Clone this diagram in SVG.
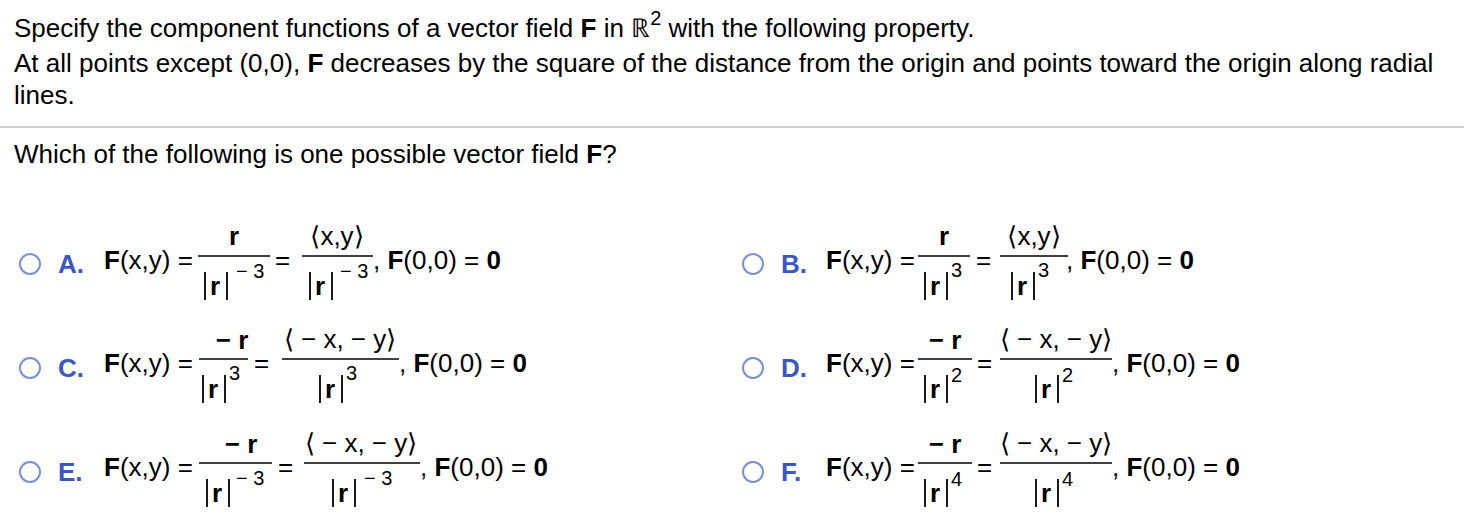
<svg xmlns="http://www.w3.org/2000/svg" width="1464" height="516" viewBox="0 0 1464 516">
<style>
text{font-family:"Liberation Sans",Arial,sans-serif;font-size:26px;fill:#000}
.b{font-weight:bold}
.lt{font-weight:bold;fill:#3a57c4}
.c{text-anchor:middle}
.sup{font-size:20px}
.rad{fill:none;stroke:#7b8fd6;stroke-width:2}
.bar{stroke:#000;stroke-width:1.5}
.ab{stroke:#000;stroke-width:1.8}
</style>
<rect width="1464" height="516" fill="#fff"/>
<text x="14" y="37">Specify the component functions of a vector field <tspan class="b">F</tspan> in ℝ<tspan class="sup" dy="-12">2</tspan><tspan dy="12"> with the following property.</tspan></text>
<text x="14" y="72">At all points except (0,0), <tspan class="b">F</tspan> decreases by the square of the distance from the origin and points toward the origin along radial</text>
<text x="14" y="104">lines.</text>
<line x1="0" y1="127" x2="1464" y2="127" stroke="#d0d0d0" stroke-width="2"/>
<text x="14" y="163">Which of the following is one possible vector field <tspan class="b">F</tspan>?</text>

<g id="optA">
<circle class="rad" cx="30" cy="264" r="10"/>
<text class="lt" x="58" y="273">A.</text>
<text x="104" y="269"><tspan class="b">F</tspan>(x,y) =</text>
<line class="bar" x1="198" y1="256" x2="270" y2="256"/>
<text class="c b" x="234" y="245">r</text>
<line class="ab" x1="205" y1="272" x2="205" y2="300"/><text class="b" x="210" y="295">r</text><line class="ab" x1="227" y1="272" x2="227" y2="300"/>
<text class="sup" x="236" y="278">− 3</text>
<text x="275" y="269">=</text>
<line class="bar" x1="302" y1="256" x2="373" y2="256"/>
<text class="c" x="337" y="245">⟨x,y⟩</text>
<line class="ab" x1="310" y1="272" x2="310" y2="300"/><text class="b" x="315" y="295">r</text><line class="ab" x1="332" y1="272" x2="332" y2="300"/>
<text class="sup" x="340" y="278">− 3</text>
<text x="373" y="269">, <tspan class="b">F</tspan>(0,0) = <tspan class="b">0</tspan></text>
</g>

<g id="optB">
<circle class="rad" cx="753" cy="264" r="10"/>
<text class="lt" x="781" y="273">B.</text>
<text x="826" y="269"><tspan class="b">F</tspan>(x,y) =</text>
<line class="bar" x1="918" y1="256" x2="970" y2="256"/>
<text class="c b" x="944" y="245">r</text>
<line class="ab" x1="925" y1="272" x2="925" y2="300"/><text class="b" x="930" y="295">r</text><line class="ab" x1="947" y1="272" x2="947" y2="300"/>
<text class="sup" x="951" y="277">3</text>
<text x="976" y="269">=</text>
<line class="bar" x1="1000" y1="256" x2="1068" y2="256"/>
<text class="c" x="1034" y="245">⟨x,y⟩</text>
<line class="ab" x1="1012" y1="272" x2="1012" y2="300"/><text class="b" x="1017" y="295">r</text><line class="ab" x1="1034" y1="272" x2="1034" y2="300"/>
<text class="sup" x="1038" y="277">3</text>
<text x="1066" y="269">, <tspan class="b">F</tspan>(0,0) = <tspan class="b">0</tspan></text>
</g>

<g id="optC">
<circle class="rad" cx="30" cy="368" r="10"/>
<text class="lt" x="58" y="377">C.</text>
<text x="104" y="372"><tspan class="b">F</tspan>(x,y) =</text>
<line class="bar" x1="199" y1="359" x2="248" y2="359"/>
<text class="c b" x="232" y="349">− r</text>
<line class="ab" x1="203" y1="375" x2="203" y2="403"/><text class="b" x="208" y="398">r</text><line class="ab" x1="225" y1="375" x2="225" y2="403"/>
<text class="sup" x="229" y="380">3</text>
<text x="254" y="372">=</text>
<line class="bar" x1="282" y1="359" x2="399" y2="359"/>
<text class="c" x="340" y="348">⟨ − x, − y⟩</text>
<line class="ab" x1="320" y1="375" x2="320" y2="403"/><text class="b" x="325" y="398">r</text><line class="ab" x1="342" y1="375" x2="342" y2="403"/>
<text class="sup" x="346" y="380">3</text>
<text x="399" y="372">, <tspan class="b">F</tspan>(0,0) = <tspan class="b">0</tspan></text>
</g>

<g id="optD">
<circle class="rad" cx="753" cy="368" r="10"/>
<text class="lt" x="781" y="377">D.</text>
<text x="826" y="372"><tspan class="b">F</tspan>(x,y) =</text>
<line class="bar" x1="918" y1="359" x2="972" y2="359"/>
<text class="c b" x="945" y="349">− r</text>
<line class="ab" x1="925" y1="375" x2="925" y2="403"/><text class="b" x="930" y="398">r</text><line class="ab" x1="947" y1="375" x2="947" y2="403"/>
<text class="sup" x="951" y="382">2</text>
<text x="977" y="372">=</text>
<line class="bar" x1="1000" y1="359" x2="1112" y2="359"/>
<text class="c" x="1056" y="348">⟨ − x, − y⟩</text>
<line class="ab" x1="1036" y1="375" x2="1036" y2="403"/><text class="b" x="1041" y="398">r</text><line class="ab" x1="1058" y1="375" x2="1058" y2="403"/>
<text class="sup" x="1062" y="382">2</text>
<text x="1112" y="372">, <tspan class="b">F</tspan>(0,0) = <tspan class="b">0</tspan></text>
</g>

<g id="optE">
<circle class="rad" cx="30" cy="472" r="10"/>
<text class="lt" x="58" y="481">E.</text>
<text x="104" y="476"><tspan class="b">F</tspan>(x,y) =</text>
<line class="bar" x1="199" y1="463" x2="272" y2="463"/>
<text class="c b" x="241" y="453">− r</text>
<line class="ab" x1="207" y1="479" x2="207" y2="507"/><text class="b" x="212" y="502">r</text><line class="ab" x1="229" y1="479" x2="229" y2="507"/>
<text class="sup" x="236" y="485">− 3</text>
<text x="278" y="476">=</text>
<line class="bar" x1="304" y1="463" x2="420" y2="463"/>
<text class="c" x="361" y="452">⟨ − x, − y⟩</text>
<line class="ab" x1="333" y1="479" x2="333" y2="507"/><text class="b" x="338" y="502">r</text><line class="ab" x1="355" y1="479" x2="355" y2="507"/>
<text class="sup" x="364" y="485">− 3</text>
<text x="420" y="476">, <tspan class="b">F</tspan>(0,0) = <tspan class="b">0</tspan></text>
</g>

<g id="optF">
<circle class="rad" cx="753" cy="472" r="10"/>
<text class="lt" x="781" y="481">F.</text>
<text x="826" y="476"><tspan class="b">F</tspan>(x,y) =</text>
<line class="bar" x1="918" y1="463" x2="972" y2="463"/>
<text class="c b" x="945" y="453">− r</text>
<line class="ab" x1="925" y1="479" x2="925" y2="507"/><text class="b" x="930" y="502">r</text><line class="ab" x1="947" y1="479" x2="947" y2="507"/>
<text class="sup" x="951" y="486">4</text>
<text x="977" y="476">=</text>
<line class="bar" x1="1000" y1="463" x2="1112" y2="463"/>
<text class="c" x="1056" y="452">⟨ − x, − y⟩</text>
<line class="ab" x1="1036" y1="479" x2="1036" y2="507"/><text class="b" x="1041" y="502">r</text><line class="ab" x1="1058" y1="479" x2="1058" y2="507"/>
<text class="sup" x="1062" y="486">4</text>
<text x="1112" y="476">, <tspan class="b">F</tspan>(0,0) = <tspan class="b">0</tspan></text>
</g>
</svg>
